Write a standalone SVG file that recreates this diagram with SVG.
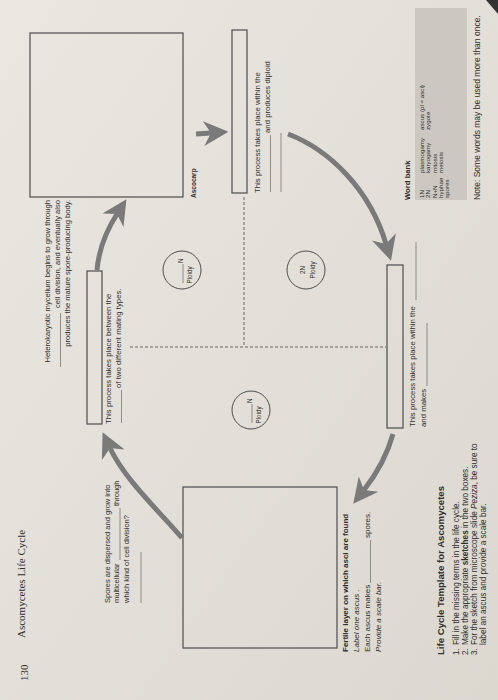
<svg xmlns="http://www.w3.org/2000/svg" width="498" height="700" viewBox="0 0 498 700">
<defs>
<linearGradient id="paper" x1="0" y1="0" x2="1" y2="1">
<stop offset="0" stop-color="#eae7e1"/>
<stop offset="1" stop-color="#dcd8d0"/>
</linearGradient>
<marker id="ah" viewBox="0 0 10 10" refX="3" refY="5" markerWidth="5" markerHeight="5" orient="auto" markerUnits="strokeWidth">
<path d="M0,0 L10,5 L0,10 L3,5 Z" fill="#7a7a7a"/>
</marker>
</defs>
<style>
text{font-family:"Liberation Sans",Arial,sans-serif;fill:#2e2e2e;font-size:7.8px}
.serif{font-family:"Liberation Serif","Times New Roman",serif;font-size:11px}
.b{font-weight:bold}
.i{font-style:italic}
.box{fill:none;stroke:#4d4d4d;stroke-width:1.2}
.bl{stroke:#555;stroke-width:0.6;fill:none}
.arc{fill:none;stroke:#7a7a7a;stroke-width:5;marker-end:url(#ah)}
.dash{fill:none;stroke:#666;stroke-width:1;stroke-dasharray:3 2}
.c{fill:none;stroke:#4d4d4d;stroke-width:1}
.cs{font-size:6.3px}
.wb{font-size:6.2px}
</style>
<rect width="498" height="700" fill="url(#paper)"/>
<polygon points="486,0 498,0 498,14" fill="#333"/>

<g id="title">
<text class="serif" transform="rotate(-90)" x="-681" y="28">130</text>
<text class="serif" transform="rotate(-90)" x="-638" y="25">Ascomycetes Life Cycle</text>
</g>

<g id="spores-text">
<g transform="rotate(-90)">
<text x="-603" y="109.5" style="font-size:7.5px">Spores are dispersed and grow into</text>
<text x="-603" y="119" style="font-size:7.5px">multicellular</text>
<text x="-506" y="119" style="font-size:7.5px">through</text>
<text x="-603" y="128.5" style="font-size:7.5px">which kind of cell division?</text>
</g>
<line class="bl" x1="120" y1="560" x2="120" y2="508"/>
<line class="bl" x1="141" y1="603" x2="141" y2="552"/>
</g>

<g id="hetero-text">
<g transform="rotate(-90)">
<text x="-200" y="49.5" text-anchor="end" style="font-size:7.6px">Heterokaryotic mycelium begins to grow through</text>
<text x="-200" y="59.5" text-anchor="end" style="font-size:7.6px">cell division, and eventually also</text>
<text x="-200" y="69.5" text-anchor="end" style="font-size:7.6px">produces the mature spore-producing body.</text>
</g>
<line class="bl" x1="60.5" y1="367" x2="60.5" y2="313"/>
</g>

<g id="plasmogamy">
<rect class="box" x="87" y="271" width="15" height="153"/>
<g transform="rotate(-90)">
<text x="-424" y="110.5">This process takes place between the</text>
<text x="-388" y="120.5">of two different mating types.</text>
</g>
<line class="bl" x1="121.5" y1="423" x2="121.5" y2="390"/>
</g>

<g id="ascocarp">
<rect class="box" x="30" y="33" width="153" height="164"/>
<text class="b" transform="rotate(-90)" x="-198" y="195.5" style="font-size:6.5px">Ascocarp</text>
</g>

<g id="karyogamy">
<rect class="box" x="232" y="30" width="15" height="163"/>
<g transform="rotate(-90)">
<text x="-193" y="259.5">This process takes place within the</text>
<text x="-133" y="269.5">and produces diploid</text>
</g>
<line class="bl" x1="270.5" y1="192" x2="270.5" y2="135"/>
<line class="bl" x1="281" y1="192" x2="281" y2="133"/>
</g>

<g id="meiosis">
<rect class="box" x="387" y="265" width="16" height="163"/>
<g transform="rotate(-90)">
<text x="-427" y="415">This process takes place within the</text>
<text x="-427" y="426">and makes</text>
</g>
<line class="bl" x1="416" y1="300" x2="416" y2="242"/>
<line class="bl" x1="427" y1="386" x2="427" y2="323"/>
</g>

<g id="fertile-layer">
<rect class="box" x="183" y="487" width="154" height="161"/>
<g transform="rotate(-90)">
<text class="b" x="-652" y="347.5" style="font-size:8px">Fertile layer on which asci are found</text>
<text class="i" x="-652" y="358.5" style="font-size:8px">Label one ascus .</text>
<text x="-652" y="369.5" style="font-size:8px">Each ascus makes</text>
<text x="-538" y="369.5" style="font-size:8px">spores.</text>
<text class="i" x="-652" y="381" style="font-size:8px">Provide a scale bar.</text>
</g>
<line class="bl" x1="370.5" y1="583" x2="370.5" y2="540"/>
</g>

<g id="instructions">
<g transform="rotate(-90)">
<text class="b" x="-655" y="443.5" style="font-size:9.6px">Life Cycle Template for Ascomycetes</text>
<text x="-655" y="458.5" style="font-size:8.2px">1.</text>
<text x="-645" y="458.5" style="font-size:8.2px">Fill in the missing terms in the life cycle.</text>
<text x="-655" y="467.5" style="font-size:8.2px">2.</text>
<text x="-645" y="467.5" style="font-size:8.2px">Make the appropriate <tspan class="b">sketches</tspan> in the two boxes.</text>
<text x="-655" y="476.5" style="font-size:8.2px">3.</text>
<text x="-645" y="476.5" style="font-size:8.2px">For the sketch from microscope slide <tspan class="i">Peziza</tspan>, be sure to</text>
<text x="-645" y="486" style="font-size:8.2px">label an ascus and provide a scale bar.</text>
</g>
</g>

<g id="word-bank">
<rect x="415" y="8" width="52" height="192" fill="#ccc8c1"/>
<g transform="rotate(-90)">
<text class="b" x="-200" y="410" style="font-size:7.7px">Word bank</text>
<text class="wb" x="-198" y="424">1N</text>
<text class="wb" x="-198" y="430.3">2N</text>
<text class="wb" x="-198" y="436.6">N+N</text>
<text class="wb" x="-198" y="442.9">hyphae</text>
<text class="wb" x="-198" y="449.2">spores</text>
<text class="wb" x="-173" y="424">plasmogamy</text>
<text class="wb" x="-173" y="430.3">karyogamy</text>
<text class="wb" x="-173" y="436.6">mitosis</text>
<text class="wb" x="-173" y="442.9">meiosis</text>
<text class="wb" x="-130" y="424">ascus (pl = asci)</text>
<text class="wb" x="-130" y="430.3">zygote</text>
<text x="-200" y="480" style="font-size:8.5px">Note: Some words may be used more than once.</text>
</g>
</g>

<g id="ploidy-n-upper">
<circle class="c" cx="182" cy="270" r="19"/>
<line class="bl" x1="183" y1="283" x2="183" y2="264"/>
<g transform="rotate(-90)">
<text class="cs" x="-263" y="183">N</text>
<text class="cs" x="-275" y="192" text-anchor="middle">Ploidy</text>
</g>
</g>

<g id="ploidy-n-lower">
<circle class="c" cx="251" cy="410" r="19"/>
<line class="bl" x1="252" y1="423" x2="252" y2="404"/>
<g transform="rotate(-90)">
<text class="cs" x="-403" y="252">N</text>
<text class="cs" x="-415" y="261" text-anchor="middle">Ploidy</text>
</g>
</g>

<g id="ploidy-2n">
<circle class="c" cx="306" cy="270" r="19"/>
<g transform="rotate(-90)">
<text class="cs" x="-270" y="305" text-anchor="middle">2N</text>
<text class="cs" x="-270" y="315" text-anchor="middle">Ploidy</text>
</g>
</g>

<g id="connectors">
<path class="dash" d="M244,197 V347"/>
<path class="dash" d="M130,347 H386"/>
<path class="arc" d="M288,134 C330,150 370,190 386,244"/>
<path class="arc" d="M393,434 C388,452 378,472 364,490"/>
<path class="arc" d="M182,538 C160,512 125,480 110,448"/>
<path class="arc" d="M97,270 C99,248 108,228 117,214"/>
<path class="arc" d="M196,134 L211,133"/>
</g>
</svg>
